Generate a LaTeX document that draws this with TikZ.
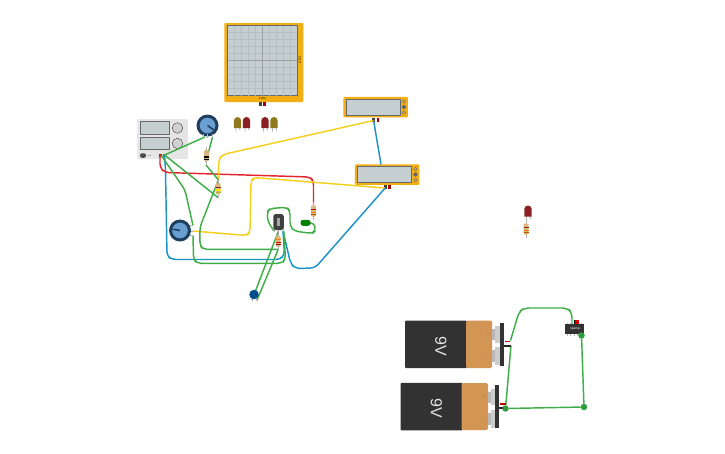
\documentclass[tikz,border=0pt]{standalone}
\usepackage{fontspec}
\setmainfont{Liberation Sans}
\tikzset{
  x=1pt,y=-1pt,
  wire/.style={line width=1.45pt,rounded corners=4pt,line join=round},
  wg/.style={wire,draw=wgreen},
  wb/.style={wire,draw=wblue},
  wy/.style={wire,draw=wyellow},
  wr/.style={wire,draw=wred},
  orangecase/.style={fill=caseorange,draw=none,rounded corners=1pt},
  lcdscreen/.style={fill=screen,draw=screenedge,line width=0.9pt},
  leg/.style={draw=leggray,line width=0.8pt},
  dot/.style={circle,fill=dotgreen,inner sep=0pt,minimum size=6.5pt},
  tiny label/.style={font=\fontsize{3.2}{3.2}\selectfont,inner sep=0pt},
}
\definecolor{wgreen}{HTML}{3FAE49}
\definecolor{dotgreen}{HTML}{2E9E3E}
\definecolor{wblue}{HTML}{1C93C8}
\definecolor{wyellow}{HTML}{F4CF1B}
\definecolor{wred}{HTML}{E3262B}
\definecolor{caseorange}{HTML}{F2AE14}
\definecolor{screen}{HTML}{C5CFD1}
\definecolor{screenedge}{HTML}{66696A}
\definecolor{leggray}{HTML}{B5B5B5}
\definecolor{potdark}{HTML}{1F3F5F}
\definecolor{potblue}{HTML}{6A9FD2}
\definecolor{psugray}{HTML}{E4E5E4}
\definecolor{restan}{HTML}{D9B77E}
\definecolor{batdark}{HTML}{323232}
\definecolor{battan}{HTML}{D29553}
\definecolor{ledred}{HTML}{8A1F24}
\definecolor{ledolive}{HTML}{8F7A1E}
% resistor: centre, band colours, vertical
\newcommand{\resistorpart}[5]{%
  \begin{scope}[shift={(#2,#3)}]
    \draw[leg] (0,-9) -- (0,9);
    \node[fill=restan,rounded corners=1.2pt,minimum width=5pt,minimum height=11pt,inner sep=0pt] (#1) at (0,0) {};
    \fill[#4] (-2.5,-2) rectangle (2.5,-0.6);
    \fill[#5] (-2.5,0.6) rectangle (2.5,2);
    \fill[#5!70!black] (-2.5,3) rectangle (2.5,3.8);
  \end{scope}}
\newcommand{\ledpart}[4]{%
  \begin{scope}[shift={(#2,#3)}]
    \draw[leg] (-1.6,4) -- (-1.6,9) (1.6,4) -- (2.6,8);
    \path[fill=#4] (-3.7,5.5) -- (-3.7,-1.8) arc[start angle=180,end angle=360,radius=3.7] -- (3.7,5.5) -- cycle;
    \coordinate (#1) at (0,0);
  \end{scope}}
\newcommand{\potpart}[4]{%
  \begin{scope}[shift={(#2,#3)}]
    \node[circle,fill=potdark,minimum size=22pt,inner sep=0pt] (#1) at (0,0) {};
    \fill[potblue] (0,0) circle (7.8);
    \draw[potdark,line width=1.6pt] (0,0) -- (#4:7.5);
  \end{scope}}
\begin{document}
\begin{tikzpicture}
\useasboundingbox (0,0) rectangle (725,453);
\fill[white] (0,0) rectangle (725,453);

% ---------- oscilloscope
\node[orangecase,minimum width=79pt,minimum height=79pt,inner sep=0pt] (scope) at (263.8,62.5) {};
\node[lcdscreen,minimum width=70pt,minimum height=70pt,inner sep=0pt] (scopescreen) at (262.3,60.5) {};
\begin{scope}
  \clip (227.8,26) rectangle (296.8,95);
  \foreach \i in {1,...,9}{\draw[screen!92!black,line width=.25pt] (227.3+\i*7,25.5) -- (227.3+\i*7,95.5);}
  \foreach \i in {1,...,9}{\draw[screen!92!black,line width=.25pt] (227.3,25.5+\i*7) -- (297.3,25.5+\i*7);}
  \draw[screen!78!black,line width=.4pt] (262.3,25.5) -- (262.3,95.5) (227.3,60.5) -- (297.3,60.5);
\end{scope}
\node[tiny label,rotate=-90] (scopev) at (300,60) {10 V};
\node[tiny label] (scopet) at (262.5,98.8) {1 ms};
\fill[black!75] (258.7,102) rectangle (261.5,105.5);
\fill[red!65!black] (263.3,102) rectangle (266,105.5);
\coordinate (scopeneg) at (260,104);

% ---------- power supply
\node[fill=psugray,rounded corners=1pt,minimum width=50.5pt,minimum height=40pt,inner sep=0pt] (psu) at (162.7,139) {};
\node[lcdscreen,minimum width=29pt,minimum height=12.5pt,inner sep=0pt] (psua) at (154.5,128) {};
\node[lcdscreen,minimum width=29pt,minimum height=12.5pt,inner sep=0pt] (psub) at (154.5,143.3) {};
\node[circle,fill=gray!35,draw=gray!75!black,line width=.6pt,minimum size=10.5pt,inner sep=0pt] (psuk1) at (177.5,128) {};
\node[circle,fill=gray!35,draw=gray!75!black,line width=.6pt,minimum size=10.5pt,inner sep=0pt] (psuk2) at (177.5,143.5) {};
\node[fill=black!70,rounded corners=2pt,minimum width=6pt,minimum height=4.5pt,inner sep=0pt] (psusw) at (143,155.5) {};
\fill[gray!70] (147.5,155) rectangle (151,156);
\coordinate (psupos) at (160,155);
\coordinate (psuneg) at (164.5,155);
\fill[red!70!black] (158.5,153.8) rectangle (161.5,156.5);
\fill[black!60] (163,153.8) rectangle (166,156.5);

% ---------- LEDs top row
\ledpart{la}{237.5}{122.5}{ledolive}
\ledpart{lb}{246.5}{122.5}{ledred}
\ledpart{lc}{265}{122.5}{ledred}
\ledpart{ld}{274}{122.5}{ledolive}

% ---------- LCDs
\node[orangecase,minimum width=64.5pt,minimum height=20.5pt,inner sep=0pt] (lcda) at (375.7,107.2) {};
\node[lcdscreen,minimum width=54pt,minimum height=16pt,inner sep=0pt] (lcdascr) at (373,107) {};
\node[orangecase,minimum width=64.5pt,minimum height=20.5pt,inner sep=0pt] (lcdb) at (387.2,174.7) {};
\node[lcdscreen,minimum width=54pt,minimum height=16pt,inner sep=0pt] (lcdbscr) at (384.5,174.5) {};
\foreach \cx/\cy in {404/101.5,404/107,404/112.5,415.5/169,415.5/174.5,415.5/180}{
  \draw[black!55,line width=.5pt] (\cx,\cy) circle (1.8);}
\fill[black!60] (404,107) circle (2);
\fill[black!60] (415.5,174.5) circle (2);
\fill[black!75] (372.3,117.5) rectangle (375,121.5);
\fill[red!65!black] (376.7,117.5) rectangle (379.3,121.5);
\fill[black!75] (383.8,185) rectangle (386.5,189);
\fill[red!65!black] (388.2,185) rectangle (390.8,189);
\coordinate (lcdaneg) at (373.6,120.5);
\coordinate (lcdbneg) at (385.2,188);
\coordinate (lcdbpos) at (381,164.5);

% ---------- wires, left circuit
\coordinate (pota2) at (205,137);
\coordinate (pota3) at (212.5,137);
\coordinate (ra2top) at (218.5,180);
\coordinate (ra2bot) at (218,197.5);
\coordinate (trleft) at (274,231);
\coordinate (trmid) at (278.5,231);
\coordinate (trright) at (283,231);
\coordinate (potb1) at (193,225.5);
\coordinate (potb2) at (193,231);
\coordinate (potb3) at (193,235.5);
\coordinate (capa) at (252,300);
\coordinate (capb) at (257,300);

\draw[wb] (psuneg) -- (165.5,170) -- (167,256) -- (172,259.5) -- (280,259.5) -- (284.5,255) -- (trright);
\draw[wr] (psupos) -- (160,168) -- (165,172.5) -- (310,177) -- (313.5,181) -- (313.5,205);
\draw[wy] (lcdaneg) -- (223,154.5) -- (218.8,159) -- (ra2top);
\draw[wy] (potb2) -- (247,235.5) -- (250,232) -- (251,181) -- (254,177.5) -- (lcdbneg);
\draw[wb] (lcdaneg) -- (lcdbpos);
\draw[wb,rounded corners=5pt] (trright) -- (290.5,263) -- (295,268.5) -- (315,268) -- (lcdbneg);
\draw[wg] (psuneg) -- (pota2);
\draw[wg] (pota3) -- (206,162);
\draw[wg] (206,165) -- (ra2top);
\draw[wg] (psuneg) -- (ra2bot);
\draw[wg] (161,155) -- (185,190) -- (potb1);
\draw[wg] (218,181) -- (200,227) -- (199.8,245) -- (203,249.3) -- (278,249.3);
\draw[wg] (potb3) -- (193.5,259) -- (197,263.3) -- (282,263.3) -- (285.5,259) -- (283.8,231);
\draw[wg] (capa) -- (trmid);
\draw[wg] (capb) -- (278,250);
\draw[wg,rounded corners=4pt] (311,223) -- (314.5,223) -- (315.5,231) -- (312,233.5) -- (294,231) -- (290,226) -- (290,211) -- (287,207.3) -- (270,208.5) -- (267,212) -- (268,222) -- (trleft);

% ---------- parts above wires
\potpart{pota}{207.5}{125.5}{35}
\foreach \lx in {203,207.5,212}{\draw[leg] (\lx,134) -- (\lx,138);}
\foreach \ly in {225.5,231,235.5}{\draw[leg] (189,\ly) -- (193,\ly);}
\potpart{potb}{180}{230.5}{190}
\resistorpart{ra}{206.5}{155.5}{restan}{black}
\resistorpart{rb}{218}{188.5}{ledred}{yellow!90!orange}
\resistorpart{rc}{278}{241}{orange}{red!85!black}
\resistorpart{rd}{313.5}{211}{red!70!black}{orange}
\resistorpart{re}{526}{229}{ledred}{orange}

% transistor
\foreach \lx in {274,278.5,283}{\draw[leg] (\lx,228) -- (\lx,232);}
\node[fill=black!75,rounded corners=2.5pt,minimum width=10.5pt,minimum height=16pt,inner sep=0pt] (trans) at (278.5,222) {};
\fill[gray!70] (277,218) rectangle (280,225.5);

% green LED
\draw[leg] (309,222.5) -- (312,222.5);
\node[fill=green!50!black,rounded corners=2.5pt,minimum width=10pt,minimum height=6pt,inner sep=0pt] (gled) at (305.5,222.8) {};

% capacitor
\draw[leg] (252,297) -- (252,301) (256.5,297) -- (256.5,301);
\node[circle,fill=blue!45!cyan!55!black,minimum size=9.5pt,inner sep=0pt] (cap) at (254,294.5) {};

% lone LED
\ledpart{le}{528}{211}{ledred}

% ---------- batteries
\node[fill=batdark,rounded corners=1pt,minimum width=62pt,minimum height=47.5pt,inner sep=0pt] (bata) at (436,344.3) {};
\path[fill=battan,rounded corners=1.5pt] (466,320.5) rectangle (492,368);
\node[rotate=-90,text=white!90!black,font=\fontsize{16}{16}\selectfont] (batalabel) at (441,346) {9V};
\fill[gray!55] (492,329) rectangle (497,340);
\fill[gray!40] (495,326) rectangle (500,342.5);
\fill[gray!55] (492,350) rectangle (497,362);
\fill[gray!40] (495,347) rectangle (500,365);
\node[fill=black!80,minimum width=4pt,minimum height=43pt,inner sep=0pt] (bara) at (502,344.5) {};
\node[tiny label,text=black!55] (aplus) at (488,334) {+};
\node[tiny label,text=black!55] (aminus) at (488,354.5) {−};
\coordinate (snapa) at (510.5,340.5);
\coordinate (snapb) at (511,345.5);

\node[fill=batdark,rounded corners=1pt,minimum width=62pt,minimum height=47.5pt,inner sep=0pt] (batb) at (431.5,406.7) {};
\path[fill=battan,rounded corners=1.5pt] (461.5,383) rectangle (488,430);
\node[rotate=-90,text=white!90!black,font=\fontsize{16}{16}\selectfont] (batblabel) at (436.5,408.5) {9V};
\fill[gray!55] (488,392) rectangle (493,403);
\fill[gray!40] (491,389) rectangle (495.5,405);
\fill[gray!55] (488,413) rectangle (493,425);
\fill[gray!40] (491,410) rectangle (495.5,428);
\node[fill=black!80,minimum width=4pt,minimum height=43pt,inner sep=0pt] (barb) at (497.3,406.5) {};
\node[tiny label,text=black!55] (bplus) at (483.5,397) {+};
\node[tiny label,text=black!55] (bminus) at (483.5,417.5) {−};

% op-amp chip
\foreach \lx in {567,570.5,574,577.5,581}{\draw[leg,line width=.5pt] (\lx,322.5) -- (\lx,336);}
\fill[red!85!black] (574.5,320) rectangle (578.5,324.5);
\fill[black] (573.5,320) rectangle (575,324);
\node[fill=batdark,minimum width=19pt,minimum height=10pt,inner sep=0pt] (chip) at (574.5,329) {};
\node[tiny label,text=white] (chiplabel) at (575,329) {opamp};

% dots and wires, right circuit
\node[dot] (da) at (505.5,408.5) {};
\node[dot] (db) at (584,407) {};
\node[dot] (dc) at (581.5,335.5) {};
\draw[wg,rounded corners=5pt] (snapa) -- (519,312) -- (524,308) -- (567,308) -- (572,312.5) -- (572,324);
\draw[wg] (snapb) -- (da);
\draw[wg] (da) -- (db);
\draw[wg] (db) -- (dc);
% battery clips, over the wires
\fill[red!75!black] (505,340.5) rectangle (510,342.3);
\fill[black!85] (504,345) rectangle (510.5,346.8);
\fill[red!75!black] (500,403) rectangle (506,404.8);
\fill[black!85] (499,407.3) rectangle (503,409);
\end{tikzpicture}
\end{document}
